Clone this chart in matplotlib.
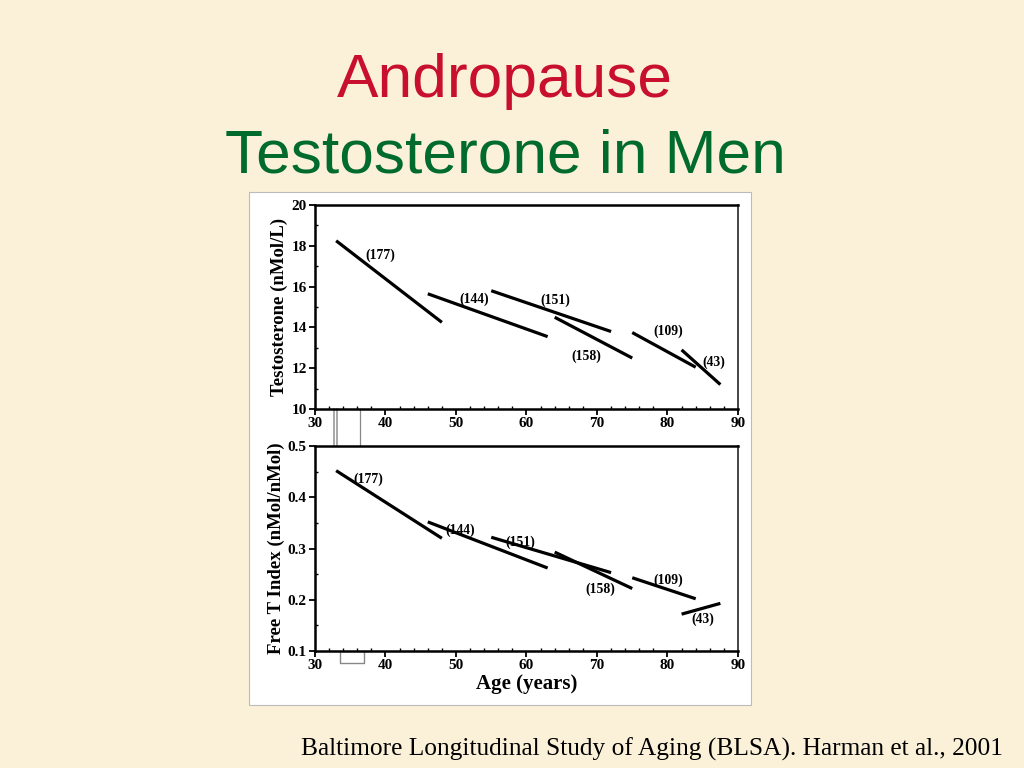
import matplotlib
matplotlib.use("Agg")
import matplotlib.pyplot as plt
from matplotlib.patches import Rectangle
from matplotlib.ticker import MultipleLocator
from matplotlib.transforms import blended_transform_factory

# ---------------- data ----------------
groups = ["(177)", "(144)", "(151)", "(158)", "(109)", "(43)"]
age_start = [33, 46, 55, 64, 75, 82]
age_end = [48, 63, 72, 75, 84, 87.5]

# Total testosterone (nMol/L)
tt_start = [18.25, 15.65, 15.8, 14.5, 13.75, 12.9]
tt_end = [14.25, 13.55, 13.8, 12.5, 12.05, 11.2]
tt_label_x = [39.3, 52.6, 64.1, 68.5, 80.1, 86.6]
tt_label_y = [17.55, 15.4, 15.35, 12.6, 13.8, 12.3]

# Free T index (nMol/nMol)
ft_start = [0.452, 0.352, 0.322, 0.293, 0.243, 0.172]
ft_end = [0.320, 0.262, 0.253, 0.222, 0.202, 0.193]
ft_label_x = [37.5, 50.6, 59.1, 70.5, 80.1, 85.0]
ft_label_y = [0.435, 0.335, 0.313, 0.221, 0.238, 0.162]

x_ticks = [30, 40, 50, 60, 70, 80, 90]
tt_ticks = [10, 12, 14, 16, 18, 20]
ft_ticks = [0.1, 0.2, 0.3, 0.4, 0.5]

# ---------------- style ----------------
BG = "#FBF1D8"
SERIF = ["Liberation Serif", "DejaVu Serif"]
SANS = ["Liberation Sans", "DejaVu Sans"]

fig = plt.figure(figsize=(10.24, 7.68), dpi=100, facecolor=BG)

# white scanned-figure box
fig.patches.append(Rectangle((0.2432, 0.082), 0.4902, 0.668, transform=fig.transFigure,
                             facecolor="white", edgecolor="#bbbbbb", linewidth=0.8, zorder=-5))

fig.text(0.493, 0.8737, "Andropause", ha="center", va="baseline", fontsize=44.8,
         color="#C8102E", family=SANS)
fig.text(0.494, 0.776, "Testosterone in Men", ha="center", va="baseline", fontsize=44.8,
         color="#006B2D", family=SANS)
fig.text(0.979, 0.0156, "Baltimore Longitudinal Study of Aging (BLSA). Harman et al., 2001",
         ha="right", va="baseline", fontsize=18.3, color="black", family=SERIF)


def style_axes(ax, yticks, yminor, ylabel):
    ax.set_zorder(3)
    ax.set_facecolor("white")
    ax.set_xlim(30, 90)
    ax.set_xticks(x_ticks)
    ax.xaxis.set_minor_locator(MultipleLocator(2))
    ax.set_yticks(yticks)
    ax.yaxis.set_minor_locator(MultipleLocator(yminor))
    ax.tick_params(which="major", direction="out", length=4, width=1.3, labelsize=11, pad=2)
    ax.tick_params(which="minor", direction="in", length=2.5, width=1.0)
    ax.tick_params(axis="x", which="both", top=False)
    ax.tick_params(axis="y", which="both", right=False)
    for lab in ax.get_xticklabels() + ax.get_yticklabels():
        lab.set_family(SERIF)
        lab.set_fontweight("bold")
    for s in ["left", "bottom", "top"]:
        ax.spines[s].set_linewidth(1.8)
    ax.spines["right"].set_linewidth(1.4)
    ax.spines["right"].set_color("#444444")
    ax.set_ylabel(ylabel, family=SERIF, fontweight="bold", fontsize=13.5, labelpad=2)


# ---------------- top panel ----------------
ax1 = fig.add_axes([0.3076, 0.4674, 0.4131, 0.2656])
for i in range(len(groups)):
    ax1.plot([age_start[i], age_end[i]], [tt_start[i], tt_end[i]], color="black",
             lw=2.3, solid_capstyle="butt")
    ax1.text(tt_label_x[i], tt_label_y[i], groups[i], ha="center", va="center",
             fontsize=9.8, fontweight="bold", family=SERIF)
ax1.set_ylim(10, 20)
style_axes(ax1, tt_ticks, 1, "Testosterone (nMol/L)")

# scan artefacts between the panels
tr1 = blended_transform_factory(ax1.transData, ax1.transAxes)
ax1.plot([32.7, 32.7], [0, -0.175], transform=tr1, color="#999999", lw=1.2, clip_on=False)
ax1.plot([33.1, 33.1], [0, -0.175], transform=tr1, color="#999999", lw=1.2, clip_on=False)
ax1.plot([36.4, 36.4], [0, -0.175], transform=tr1, color="#888888", lw=0.9, clip_on=False)

# ---------------- bottom panel ----------------
ax2 = fig.add_axes([0.3076, 0.1523, 0.4131, 0.2669])
for i in range(len(groups)):
    ax2.plot([age_start[i], age_end[i]], [ft_start[i], ft_end[i]], color="black",
             lw=2.3, solid_capstyle="butt")
    ax2.text(ft_label_x[i], ft_label_y[i], groups[i], ha="center", va="center",
             fontsize=9.8, fontweight="bold", family=SERIF)
ax2.set_ylim(0.1, 0.5)
style_axes(ax2, ft_ticks, 0.05, "Free T Index (nMol/nMol)")
ax2.set_xlabel("Age (years)", family=SERIF, fontweight="bold", fontsize=15, labelpad=1)

tr2 = blended_transform_factory(ax2.transData, ax2.transAxes)
ax2.plot([33.5, 33.5, 37.0, 37.0], [0, -0.06, -0.06, 0], transform=tr2,
         color="#888888", lw=1.0, clip_on=False, zorder=1)

fig.savefig("out.png", dpi=100, facecolor=BG)
